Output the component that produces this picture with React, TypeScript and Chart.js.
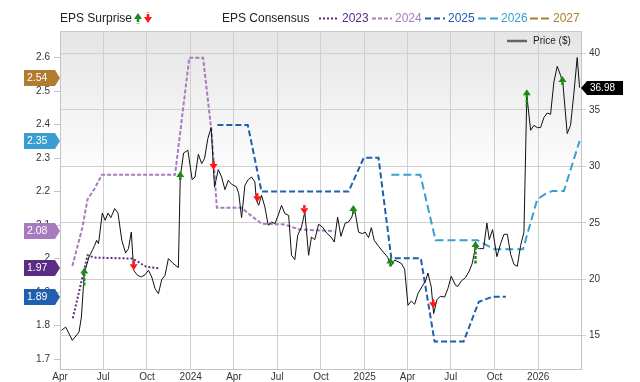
import React, { useEffect, useRef } from 'react';
import { Chart, registerables } from 'chart.js';

Chart.register(...registerables);

// ---------- DATA ----------
const X_START = '2023-04-01';
const X_END = '2026-04-01';
const xTickDates = ['2023-04-01', '2023-07-01', '2023-10-01', '2024-01-01', '2024-04-01', '2024-07-01', '2024-10-01', '2025-01-01', '2025-04-01', '2025-07-01', '2025-10-01', '2026-01-01'];
const xTickLabels = ['Apr', 'Jul', 'Oct', '2024', 'Apr', 'Jul', 'Oct', '2025', 'Apr', 'Jul', 'Oct', '2026'];
const epsTicks = [1.7, 1.8, 1.9, 2, 2.1, 2.2, 2.3, 2.4, 2.5, 2.6];
const priceTicks = [15, 20, 25, 30, 35, 40];

const priceDates = [
  '2023-04-04', '2023-04-13', '2023-04-27', '2023-05-11', '2023-05-16', '2023-05-22', '2023-06-01', '2023-06-08', '2023-06-13', '2023-06-17',
  '2023-06-21', '2023-06-29', '2023-07-05', '2023-07-11', '2023-07-17', '2023-07-25', '2023-08-01', '2023-08-09', '2023-08-17', '2023-08-23',
  '2023-08-29', '2023-09-03', '2023-09-11', '2023-09-19', '2023-09-27', '2023-10-04', '2023-10-11', '2023-10-18', '2023-10-25', '2023-11-01',
  '2023-11-08', '2023-11-15', '2023-11-24', '2023-12-06', '2023-12-10', '2023-12-17', '2023-12-26', '2024-01-04', '2024-01-10', '2024-01-17',
  '2024-01-24', '2024-01-30', '2024-02-06', '2024-02-13', '2024-02-20', '2024-02-28', '2024-03-06', '2024-03-13', '2024-03-20', '2024-03-27',
  '2024-04-06', '2024-04-11', '2024-04-17', '2024-04-24', '2024-05-01', '2024-05-08', '2024-05-15', '2024-05-18', '2024-05-23', '2024-05-29',
  '2024-06-05', '2024-06-12', '2024-06-19', '2024-06-26', '2024-07-03', '2024-07-10', '2024-07-17', '2024-07-25', '2024-07-31', '2024-08-07',
  '2024-08-13', '2024-08-21', '2024-08-28', '2024-09-05', '2024-09-11', '2024-09-18', '2024-09-26', '2024-10-04', '2024-10-13', '2024-10-22',
  '2024-10-29', '2024-11-05', '2024-11-12', '2024-11-21', '2024-11-28', '2024-12-05', '2024-12-10', '2024-12-19', '2024-12-27', '2025-01-02',
  '2025-01-09', '2025-01-15', '2025-01-21', '2025-01-30', '2025-02-09', '2025-02-18', '2025-02-26', '2025-03-05', '2025-03-19', '2025-03-26',
  '2025-04-02', '2025-04-09', '2025-04-16', '2025-04-23', '2025-05-02', '2025-05-09', '2025-05-14', '2025-05-21', '2025-05-26', '2025-06-02',
  '2025-06-09', '2025-06-18', '2025-06-25', '2025-07-02', '2025-07-11', '2025-07-16', '2025-07-23', '2025-08-01', '2025-08-09', '2025-08-15',
  '2025-08-22', '2025-08-30', '2025-09-08', '2025-09-15', '2025-09-20', '2025-09-27', '2025-10-06', '2025-10-14', '2025-10-21', '2025-10-28',
  '2025-11-04', '2025-11-11', '2025-11-18', '2025-11-25', '2025-12-02', '2025-12-08', '2025-12-16', '2025-12-23', '2025-12-30', '2026-01-06',
  '2026-01-13', '2026-01-20', '2026-01-27', '2026-02-03', '2026-02-10', '2026-02-17', '2026-02-22', '2026-03-03', '2026-03-10', '2026-03-17',
  '2026-03-24', '2026-03-29',
];
const priceValues = [
  15.47, 15.76, 14.58, 15.32, 16.65, 20.5, 21.97, 22.56, 23.0, 23.45,
  23.15, 25.87, 25.22, 25.87, 25.46, 26.26, 25.87, 23.45, 22.32, 22.71,
  24.18, 20.79, 20.35, 20.2, 20.4, 20.8, 20.2, 19.17, 18.72, 19.96,
  20.35, 21.83, 21.44, 21.03, 29.06, 31.19, 31.43, 28.83, 29.06, 31.07,
  30.25, 30.69, 32.46, 33.44, 28.17, 29.72, 29.06, 27.94, 28.77, 28.41,
  28.2, 27.59, 25.46, 28.32, 28.83, 29.06, 28.62, 27.0, 26.55, 27.44,
  26.4, 24.78, 25.07, 24.93, 25.66, 26.55, 25.82, 25.66, 22.12, 21.74,
  23.89, 24.63, 25.96, 22.12, 23.74, 23.51, 24.87, 24.63, 24.1, 23.74,
  23.3, 25.51, 23.8, 24.98, 25.07, 25.51, 26.4, 24.18, 24.04, 24.18,
  23.69, 24.57, 23.45, 22.92, 22.41, 21.97, 21.2, 21.7, 21.4, 20.9,
  17.69, 18.07, 17.78, 18.72, 19.37, 19.84, 20.55, 19.31, 16.95, 18.19,
  18.48, 18.42, 19.17, 20.26, 19.46, 19.37, 19.84, 20.14, 20.73, 21.38,
  22.86, 22.71, 22.71, 24.98, 23.51, 24.4, 22.0, 23.16, 23.98, 23.98,
  22.21, 21.32, 21.14, 23.0, 24.18, 36.3, 33.2, 33.64, 33.44, 33.44,
  34.33, 34.73, 34.62, 37.48, 38.87, 38.08, 37.34, 32.91, 33.64, 36.45,
  39.65, 36.98,
];

const cons2023Dates = ['2023-04-28', '2023-05-29', '2023-06-12', '2023-08-31', '2023-09-29', '2023-10-27'];
const cons2023Values = [1.822, 2.01, 2.003, 2.0, 1.976, 1.971];

const cons2024Dates = ['2023-04-27', '2023-05-18', '2023-05-29', '2023-06-12', '2023-06-28', '2023-11-29', '2023-12-29', '2024-01-27', '2024-02-14', '2024-02-25', '2024-04-17', '2024-05-01', '2024-05-29', '2024-07-16', '2024-08-16', '2024-10-29'];
const cons2024Values = [1.978, 2.092, 2.177, 2.207, 2.25, 2.25, 2.6, 2.6, 2.375, 2.152, 2.152, 2.135, 2.104, 2.102, 2.087, 2.082];

const cons2025Dates = ['2024-02-26', '2024-04-30', '2024-05-29', '2024-11-28', '2024-12-30', '2025-01-30', '2025-02-26', '2025-04-29', '2025-05-28', '2025-07-28', '2025-08-29', '2025-09-27', '2025-10-25'];
const cons2025Values = [2.399, 2.399, 2.2, 2.2, 2.301, 2.301, 2.001, 2.001, 1.752, 1.752, 1.871, 1.886, 1.886];

const cons2026Dates = ['2025-02-26', '2025-04-28', '2025-05-30', '2025-08-26', '2025-10-01', '2025-11-30', '2025-12-30', '2026-01-17', '2026-01-31', '2026-02-24', '2026-03-29'];
const cons2026Values = [2.25, 2.25, 2.055, 2.055, 2.028, 2.028, 2.177, 2.194, 2.202, 2.202, 2.351];

const cons2027Dates = ['2026-03-29'];
const cons2027Values = [2.54];

const surpriseDates = ['2023-05-22', '2023-09-03', '2023-12-10', '2024-02-18', '2024-05-20', '2024-08-27', '2024-12-08', '2025-02-24', '2025-05-25', '2025-08-22', '2025-12-08', '2026-02-21'];
const surpriseMagnitude = [12, -5, 3, -3, -3, -3, 4, 3, -4, 17, 12, 4];

const seriesNames = ['2023', '2024', '2025', '2026', '2027'];
const seriesColors = ['#5b2c86', '#a67bc0', '#1f5fae', '#3a9fd0', '#b07c2f'];
const seriesDashes = [[2, 2], [4, 2], [6, 3], [8, 4], [8, 3]];

// ---------- HELPERS ----------
const FONT = '"Liberation Sans", Arial, Helvetica, sans-serif';
const dayOf = (s: string) => {
  const [y, m, d] = s.split('-').map(Number);
  return (Date.UTC(y, m - 1, d) - Date.UTC(2023, 3, 1)) / 86400000;
};
const toPts = (dates: string[], vals: number[]) => dates.map((d, i) => ({ x: dayOf(d), y: vals[i] }));
const priceAt = (day: number) => {
  const xs = priceDates.map(dayOf);
  for (let i = 0; i < xs.length - 1; i++) {
    if (day >= xs[i] && day <= xs[i + 1]) {
      const t = (day - xs[i]) / (xs[i + 1] - xs[i] || 1);
      return priceValues[i] + t * (priceValues[i + 1] - priceValues[i]);
    }
  }
  return priceValues[priceValues.length - 1];
};

function drawArrow(ctx: CanvasRenderingContext2D, x: number, y: number, up: boolean, len: number, color: string) {
  ctx.save();
  ctx.fillStyle = color;
  ctx.strokeStyle = color;
  const head = 6;
  const hw = 4;
  let base: number, tip: number, shaftEnd: number;
  if (up) {
    base = y; tip = y - head; shaftEnd = y + len;
  } else {
    tip = y; base = y - head; shaftEnd = base - len;
  }
  ctx.lineWidth = 2.5;
  ctx.setLineDash([3, 1.5]);
  ctx.beginPath();
  ctx.moveTo(x, base);
  ctx.lineTo(x, shaftEnd);
  ctx.stroke();
  ctx.setLineDash([]);
  ctx.beginPath();
  ctx.moveTo(x - hw, base);
  ctx.lineTo(x + hw, base);
  ctx.lineTo(x, tip);
  ctx.closePath();
  ctx.fill();
  ctx.restore();
}

const customPlugin = {
  id: 'customDraw',
  beforeDraw(chart: any) {
    const { ctx, chartArea: a, scales } = chart;
    const yWhite = scales.yPrice.getPixelForValue(30);
    ctx.save();
    ctx.fillStyle = '#ffffff';
    ctx.fillRect(a.left, a.top, a.right - a.left, a.bottom - a.top);
    const g = ctx.createLinearGradient(0, a.top, 0, yWhite);
    g.addColorStop(0, '#e5e5e5');
    g.addColorStop(1, '#fcfcfc');
    ctx.fillStyle = g;
    ctx.fillRect(a.left, a.top, a.right - a.left, yWhite - a.top);
    ctx.restore();
  },
  afterDatasetsDraw(chart: any) {
    const { ctx, scales } = chart;
    surpriseDates.forEach((d, i) => {
      const day = dayOf(d);
      const x = scales.x.getPixelForValue(day);
      const y = scales.yPrice.getPixelForValue(priceAt(day));
      const m = surpriseMagnitude[i];
      drawArrow(ctx, x, y, m > 0, Math.abs(m), m > 0 ? '#1b8a1b' : '#ff1414');
    });
  },
  afterDraw(chart: any) {
    const { ctx, chartArea: a, scales } = chart;
    ctx.save();
    // top border
    ctx.strokeStyle = '#c8c8c8';
    ctx.lineWidth = 1;
    ctx.beginPath();
    ctx.moveTo(a.left, a.top + 0.5);
    ctx.lineTo(a.right, a.top + 0.5);
    ctx.stroke();

    // top legend
    ctx.textBaseline = 'middle';
    ctx.textAlign = 'left';
    ctx.font = `12px ${FONT}`;
    ctx.fillStyle = '#222';
    ctx.fillText('EPS Surprise', 60, 19);
    drawArrow(ctx, 138, 19, true, 5, '#1b8a1b');
    drawArrow(ctx, 148, 23, false, 5, '#ff1414');
    ctx.fillStyle = '#222';
    ctx.fillText('EPS Consensus', 222, 19);
    const sampleX = [319, 372, 425, 478, 530];
    seriesNames.forEach((name, i) => {
      ctx.strokeStyle = seriesColors[i];
      ctx.lineWidth = 2;
      ctx.setLineDash(seriesDashes[i]);
      ctx.beginPath();
      ctx.moveTo(sampleX[i], 18.5);
      ctx.lineTo(sampleX[i] + 20, 18.5);
      ctx.stroke();
      ctx.setLineDash([]);
      ctx.fillStyle = seriesColors[i];
      ctx.fillText(name, sampleX[i] + 23, 19);
    });

    // price legend inside plot
    ctx.strokeStyle = '#666';
    ctx.lineWidth = 2.5;
    ctx.beginPath();
    ctx.moveTo(507, 41);
    ctx.lineTo(527, 41);
    ctx.stroke();
    ctx.fillStyle = '#222';
    ctx.font = `10px ${FONT}`;
    ctx.fillText('Price ($)', 533, 41);

    // left badges (last consensus values)
    const lastVals = [cons2023Values, cons2024Values, cons2025Values, cons2026Values, cons2027Values].map((v) => v[v.length - 1]);
    lastVals.forEach((v, i) => {
      const y = Math.round(scales.yEps.getPixelForValue(v));
      ctx.fillStyle = seriesColors[i];
      ctx.beginPath();
      ctx.moveTo(24, y - 8);
      ctx.lineTo(55, y - 8);
      ctx.lineTo(60, y);
      ctx.lineTo(55, y + 8);
      ctx.lineTo(24, y + 8);
      ctx.closePath();
      ctx.fill();
      ctx.fillStyle = '#fff';
      ctx.font = `10.5px ${FONT}`;
      ctx.fillText(v.toFixed(2), 27, y + 0.5);
    });

    // right price badge
    const lastP = priceValues[priceValues.length - 1];
    const py = Math.round(scales.yPrice.getPixelForValue(lastP));
    ctx.fillStyle = '#000';
    ctx.beginPath();
    ctx.moveTo(581, py);
    ctx.lineTo(587, py - 7);
    ctx.lineTo(623, py - 7);
    ctx.lineTo(623, py + 7);
    ctx.lineTo(587, py + 7);
    ctx.closePath();
    ctx.fill();
    ctx.fillStyle = '#fff';
    ctx.font = `10px ${FONT}`;
    ctx.fillText(lastP.toFixed(2), 590, py + 0.5);
    ctx.restore();
  },
};

export default function App() {
  const ref = useRef<HTMLCanvasElement | null>(null);
  useEffect(() => {
    if (!ref.current) return;
    const consDates = [cons2023Dates, cons2024Dates, cons2025Dates, cons2026Dates, cons2027Dates];
    const consVals = [cons2023Values, cons2024Values, cons2025Values, cons2026Values, cons2027Values];
    const tickFont = { family: FONT, size: 10 };
    const chart = new Chart(ref.current, {
      type: 'line',
      data: {
        datasets: [
          {
            label: 'Price ($)',
            data: toPts(priceDates, priceValues),
            yAxisID: 'yPrice',
            borderColor: '#111',
            borderWidth: 1,
            pointRadius: 0,
            tension: 0,
          },
          ...seriesNames.map((n, i) => ({
            label: n,
            data: toPts(consDates[i], consVals[i]),
            yAxisID: 'yEps',
            borderColor: seriesColors[i],
            borderWidth: 2,
            borderDash: seriesDashes[i],
            pointRadius: 0,
            tension: 0,
          })),
        ],
      },
      options: {
        animation: false,
        responsive: false,
        maintainAspectRatio: false,
        devicePixelRatio: 1,
        layout: { padding: { top: 31, left: 0, right: 0, bottom: 0 } },
        plugins: { legend: { display: false }, tooltip: { enabled: false } },
        scales: {
          x: {
            type: 'linear',
            min: dayOf(X_START),
            max: dayOf(X_END),
            afterBuildTicks: (s: any) => {
              s.ticks = xTickDates.map((d) => ({ value: dayOf(d) }));
            },
            afterFit: (s: any) => {
              s.height = 12.5;
            },
            ticks: {
              autoSkip: false,
              maxRotation: 0,
              padding: 2,
              font: tickFont,
              color: '#333',
              callback: (_v: any, i: number) => xTickLabels[i],
            },
            grid: { color: '#cfcfcf', drawTicks: false },
            border: { color: '#c4c4c4' },
          },
          yEps: {
            type: 'linear',
            position: 'left',
            min: 1.6687,
            max: 2.6797,
            afterBuildTicks: (s: any) => {
              s.ticks = epsTicks.map((v) => ({ value: v }));
            },
            afterFit: (s: any) => {
              s.width = 60;
            },
            ticks: { padding: 4, font: tickFont, color: '#333', callback: (v: any) => String(v) },
            grid: { drawOnChartArea: false, tickLength: 6, color: '#c4c4c4' },
            border: { color: '#c4c4c4' },
          },
          yPrice: {
            type: 'linear',
            position: 'right',
            min: 12,
            max: 42,
            afterBuildTicks: (s: any) => {
              s.ticks = priceTicks.map((v) => ({ value: v }));
            },
            afterFit: (s: any) => {
              s.width = 59;
            },
            ticks: { padding: 3, font: tickFont, color: '#333', callback: (v: any) => String(v) },
            grid: { color: '#cfcfcf', tickLength: 5 },
            border: { color: '#c4c4c4' },
          },
        },
      } as any,
      plugins: [customPlugin],
    });
    return () => chart.destroy();
  }, []);
  return (
    <div style={{ position: 'absolute', left: 0, top: 0, width: 640, height: 382, background: '#fff' }}>
      <canvas ref={ref} width={640} height={382} style={{ display: 'block', width: 640, height: 382 }} />
    </div>
  );
}
